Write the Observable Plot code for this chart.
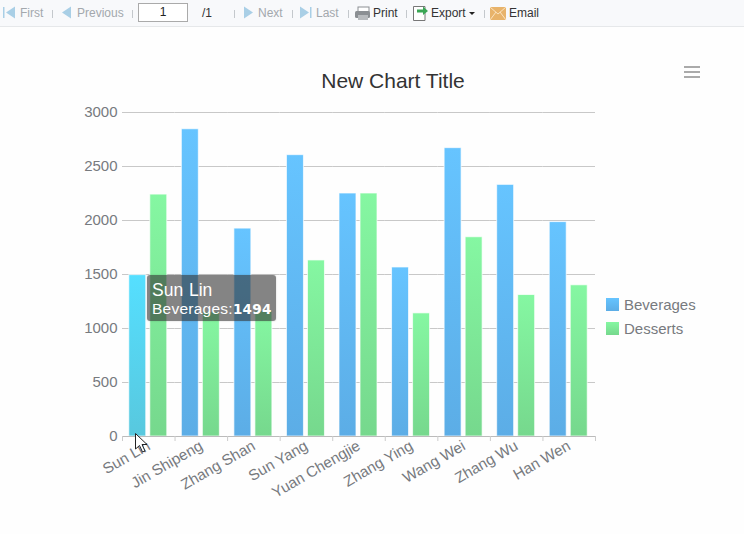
<!DOCTYPE html>
<html><head><meta charset="utf-8">
<script src="https://cdn.jsdelivr.net/npm/d3@7"></script>
<script src="https://cdn.jsdelivr.net/npm/@observablehq/plot@0.6"></script>
<style>
html,body{margin:0;padding:0;background:#fefefe;width:744px;height:534px;overflow:hidden;font-family:"Liberation Sans",Arial,sans-serif}
.abs{position:absolute;white-space:nowrap}
#bar{position:absolute;left:0;top:0;width:744px;height:26px;background:#f8f9fb;border-bottom:1px solid #e6e8ea}
#chart{position:absolute;left:0;top:27px}
.t{position:absolute;top:6px;font-size:12px;line-height:14px;white-space:nowrap}
.off{color:#a3a8ad}.on{color:#333}
.sep{position:absolute;top:10px;width:1px;height:8px;background:#c4c8cc}
</style></head><body>
<div id="bar"></div>
<div id="chart"></div>
<div class="abs" id="title" style="left:0;width:786px;top:69px;text-align:center;font-size:21px;line-height:24px;color:#333">New Chart Title</div>
<svg class="abs" style="left:684px;top:66px" width="16" height="13"><g fill="#aaa"><rect y="0" width="16" height="2"/><rect y="5" width="16" height="2"/><rect y="10" width="16" height="2"/></g></svg>
<div id="legend"></div>
<div class="abs" style="left:147px;top:275px;width:129px;height:46px;background:rgba(50,50,50,.6);border-radius:3px;box-shadow:0 0 2px rgba(0,0,0,.2);color:#fff">
<div class="abs" style="left:5px;top:5px;font-size:17.5px;line-height:20px;word-spacing:1px">Sun Lin</div>
<div class="abs" style="left:5px;top:25px;font-size:15.5px;line-height:17px;letter-spacing:.25px">Beverages:<span style="font-family:'DejaVu Sans';font-weight:bold;font-size:13.5px;letter-spacing:.3px">1494</span></div>
</div>
<svg class="abs" style="left:134px;top:432px" width="16" height="22"><path d="M1.5 1.5V17L5.5 13.5 8.5 20 11 19 8 12.5H13Z" fill="#fff" stroke="#222" stroke-width="1"/></svg>
<script>
const employees = ["Sun Lin","Jin Shipeng","Zhang Shan","Sun Yang","Yuan Chengjie","Zhang Ying","Wang Wei","Zhang Wu","Han Wen"];
const beverages = [1494,2845,1925,2605,2250,1565,2670,2330,1985];
const desserts  = [2240,1150,1160,1630,2250,1140,1845,1310,1400];
const seriesNames = ["Beverages","Desserts"];
const yTicks = [0,500,1000,1500,2000,2500,3000];

const rows = employees.flatMap((e,i)=>[
  {employee:e, series:seriesNames[0], value:beverages[i], hover:i===0},
  {employee:e, series:seriesNames[1], value:desserts[i], hover:false}
]);

function gradient(id, top, bottom){
  return `<linearGradient id="${id}" x1="0" y1="0" x2="0" y2="1"><stop offset="0" stop-color="${top}"/><stop offset="1" stop-color="${bottom}"/></linearGradient>`;
}
const defsMark = () => {
  const s = d3.create("svg:defs");
  s.html(gradient("gb","#66c4ff","#5cade6")+gradient("gd","#85f7a2","#76d88d")+gradient("gh","#55dfff","#58c8de"));
  return s.node();
};
const AXIS = "#777a7e", GRID="#c8c8c8";
const chart = Plot.plot({
  width:744, height:507,
  marginLeft:122, marginRight:149, marginTop:85, marginBottom:98,
  style:{fontFamily:"'Liberation Sans',Arial,sans-serif",fontSize:"15px",background:"transparent",color:AXIS},
  fx:{domain:employees,padding:0,round:false,label:null,axis:null},
  x:{domain:seriesNames,paddingInner:.24,paddingOuter:.37,round:false,axis:null},
  y:{domain:[0,3000],label:null,axis:null},
  marks:[
    defsMark,
    Plot.gridY(yTicks,{stroke:GRID,strokeOpacity:1}),
    Plot.barY(rows,{fx:"employee",x:"series",y:"value",
      fill:d=>d.hover?"url(#gh)":d.series===seriesNames[0]?"url(#gb)":"url(#gd)",
      stroke:"#fff",strokeWidth:1,strokeOpacity:.7,insetLeft:-.5,insetRight:-.5,dx:-.5}),
    Plot.ruleY([0],{stroke:"#bbb"}),
    Plot.axisY({ticks:yTicks,tickFormat:"d",tickSize:0,tickPadding:5,anchor:"left",label:null,fontSize:15,fill:AXIS}),
    Plot.axisFx({tickSize:5,tickFormat:()=>"",dx:-26.28,stroke:"#ccc",label:null,anchor:"bottom"}),
    Plot.axisFx({ticks:[employees[employees.length-1]],tickSize:5,tickFormat:()=>"",dx:26.28,stroke:"#ccc",label:null,anchor:"bottom"}),
    Plot.axisFx({tickSize:0,tickPadding:8,tickRotate:-30,textAnchor:"end",label:null,anchor:"bottom",fontSize:15.2,fill:AXIS,lineWidth:20})
  ]
});
document.getElementById("chart").append(chart);

/* legend */
const legendColors = ["linear-gradient(#66c4ff,#5cade6)","linear-gradient(#85f7a2,#76d88d)"];
const legend = document.getElementById("legend");
seriesNames.forEach((n,i)=>{
  const top = 298 + i*24;
  legend.insertAdjacentHTML("beforeend",
   `<div class="abs" style="left:606px;top:${top}px;width:13px;height:13px;background:${legendColors[i]}"></div>
    <div class="abs" style="left:624px;top:${top-2}px;font-size:15px;line-height:18px;color:${AXIS}">${n}</div>`);
});

/* toolbar */
const bar = document.getElementById("bar");
const texts = [["First",20,"off"],["Previous",77,"off"],["/1",202,"on"],["Next",258,"off"],["Last",316,"off"],["Print",373,"on"],["Export",431,"on"],["Email",509,"on"]];
const seps = [52,132,234,292,348,406,484];
texts.forEach(([s,x,c])=>bar.insertAdjacentHTML("beforeend",`<div class="t ${c}" style="left:${x}px">${s}</div>`));
seps.forEach(x=>bar.insertAdjacentHTML("beforeend",`<div class="sep" style="left:${x}px"></div>`));
bar.insertAdjacentHTML("beforeend",`
<div class="abs" style="left:138px;top:3px;width:48px;height:17px;background:#fff;border:1px solid #aaa;text-align:center;font-size:12px;line-height:17px;color:#222">1</div>
<svg class="abs" style="left:0;top:0" width="540" height="26">
 <g fill="#a9cfe6">
  <rect x="3" y="7" width="1.5" height="11"/><path d="M15 6.5V18.5L6 12.5Z"/>
  <path d="M71 6.5V18.5L62 12.5Z"/>
  <path d="M244 6.5V18.5L253 12.5Z"/>
  <path d="M300 6.5V18.5L309 12.5Z"/><rect x="310" y="7" width="1.5" height="11"/>
 </g>
 <g fill="#8b8f93"><rect x="358" y="7" width="11" height="5" fill="#fff" stroke="#8b8f93"/><rect x="355" y="11" width="15" height="7" rx="1.5"/><rect x="358" y="15" width="10" height="5" fill="#b8bbbe"/></g>
 <path d="M413.5 6.5H425V20.5H413.5Z" fill="#fff" stroke="#777"/>
 <path d="M417 9.5H423V6.5L428 11 423 15V12.5H417Z" fill="#3aa655"/>
 <path d="M490 7H506V20H490Z" fill="#e8b36a"/><path d="M490 7L498 14 506 7M490 20L496 12M506 20L500 12" fill="none" stroke="#fbe3c0"/>
 <path d="M469 12H475L472 15Z" fill="#222"/>
</svg>`);
</script>
</body></html>
